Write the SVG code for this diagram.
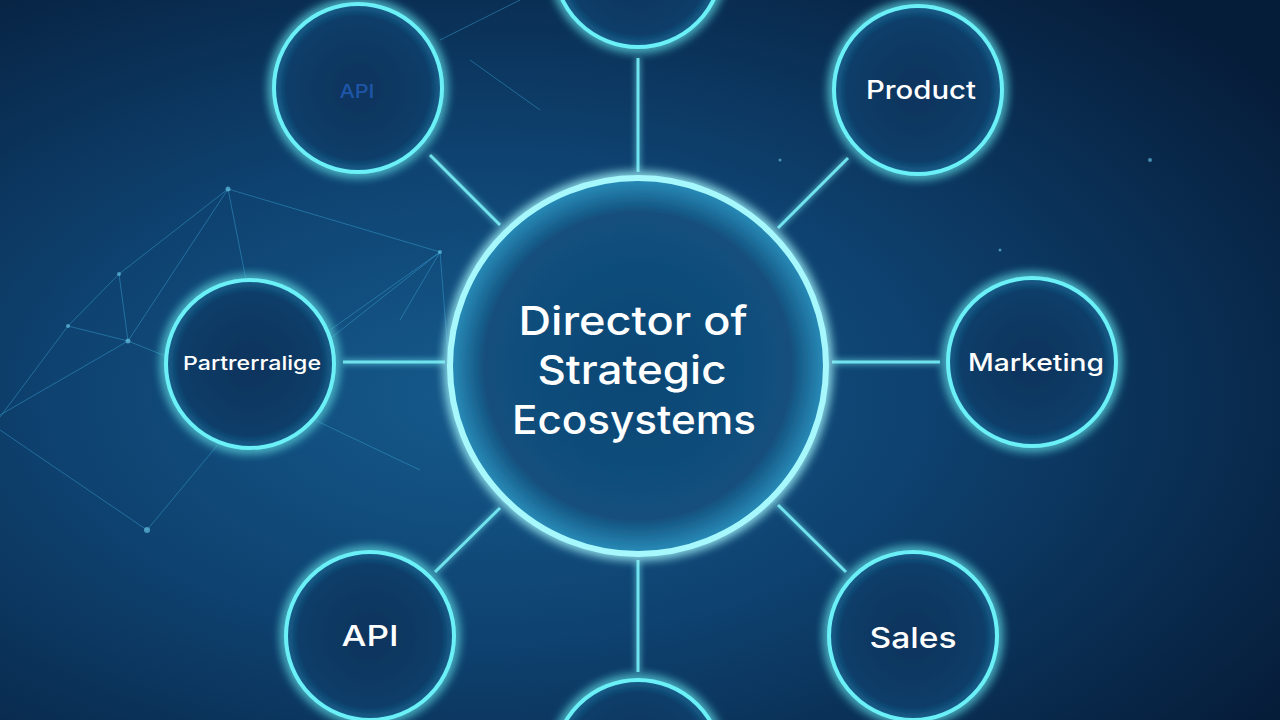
<svg xmlns="http://www.w3.org/2000/svg" width="1280" height="720" viewBox="0 0 1280 720">
<defs>
<radialGradient id="bg" cx="0.38" cy="0.55" r="0.75">
<stop offset="0" stop-color="#155a8c"/>
<stop offset="0.45" stop-color="#0e4270"/>
<stop offset="1" stop-color="#061d3a"/>
</radialGradient>
<radialGradient id="hub" cx="0.5" cy="0.5" r="0.5">
<stop offset="0" stop-color="#0f4674"/>
<stop offset="0.82" stop-color="#12507e"/>
<stop offset="1" stop-color="#2a8fbb"/>
</radialGradient>
<radialGradient id="sat" cx="0.5" cy="0.5" r="0.5">
<stop offset="0" stop-color="#0b335c"/>
<stop offset="0.85" stop-color="#0d3d68"/>
<stop offset="1" stop-color="#17648f"/>
</radialGradient>
<filter id="glow" x="-30%" y="-30%" width="160%" height="160%">
<feGaussianBlur in="SourceGraphic" stdDeviation="6" result="b"/>
<feMerge><feMergeNode in="b"/><feMergeNode in="b"/><feMergeNode in="SourceGraphic"/></feMerge>
</filter>
<filter id="glowS" filterUnits="userSpaceOnUse" x="0" y="0" width="1280" height="720">
<feGaussianBlur in="SourceGraphic" stdDeviation="3" result="b"/>
<feMerge><feMergeNode in="b"/><feMergeNode in="SourceGraphic"/></feMerge>
</filter>
<style>
.ring{fill:url(#sat);stroke:#6af0f6;stroke-width:4;filter:url(#glow)}
.hubring{fill:url(#hub);stroke:#a6f8fc;stroke-width:6;filter:url(#glow)}
.conn line{stroke:#6fe3ee;stroke-width:3}
.net line{stroke:#3aa6d8;stroke-width:1;opacity:0.45}
.net circle{fill:#6fd0f0;opacity:0.6}
.lbl{font-family:Inter,"Noto Sans","Liberation Sans",sans-serif;fill:#ffffff;text-anchor:middle;font-weight:500}
</style>
</defs>
<rect width="1280" height="720" fill="url(#bg)"/>
<g id="network" class="net">
<line x1="228" y1="189" x2="119" y2="274"/>
<line x1="119" y1="274" x2="68" y2="326"/>
<line x1="68" y1="326" x2="0" y2="417"/>
<line x1="228" y1="189" x2="440" y2="252"/>
<line x1="228" y1="189" x2="128" y2="341"/>
<line x1="228" y1="189" x2="250" y2="300"/>
<line x1="119" y1="274" x2="128" y2="341"/>
<line x1="68" y1="326" x2="128" y2="341"/>
<line x1="128" y1="341" x2="260" y2="394"/>
<line x1="128" y1="341" x2="0" y2="415"/>
<line x1="260" y1="394" x2="440" y2="252"/>
<line x1="260" y1="394" x2="147" y2="530"/>
<line x1="260" y1="394" x2="420" y2="470"/>
<line x1="0" y1="430" x2="147" y2="530"/>
<line x1="440" y1="252" x2="400" y2="320"/>
<line x1="440" y1="252" x2="450" y2="380"/>
<line x1="440" y1="252" x2="330" y2="330"/>
<line x1="440" y1="40" x2="520" y2="0"/>
<line x1="470" y1="60" x2="540" y2="110"/>
<circle cx="228" cy="189" r="2.5"/>
<circle cx="119" cy="274" r="2"/>
<circle cx="68" cy="326" r="2"/>
<circle cx="128" cy="341" r="2.5"/>
<circle cx="260" cy="394" r="2.5"/>
<circle cx="440" cy="252" r="2"/>
<circle cx="147" cy="530" r="3"/>
<circle cx="1150" cy="160" r="2"/>
<circle cx="1000" cy="250" r="1.5"/>
<circle cx="780" cy="160" r="1.5"/>
</g>
<g id="connectors" class="conn" filter="url(#glowS)">
<line x1="638" y1="58" x2="638" y2="172"/>
<line x1="638" y1="560" x2="638" y2="672"/>
<line x1="430" y1="155" x2="500" y2="225"/>
<line x1="848" y1="158" x2="778" y2="228"/>
<line x1="343" y1="362" x2="445" y2="362"/>
<line x1="832" y1="362" x2="940" y2="362"/>
<line x1="500" y1="508" x2="435" y2="572"/>
<line x1="778" y1="505" x2="846" y2="572"/>
</g>
<g id="node-top"><circle class="ring" cx="638" cy="-37" r="84"/></g>
<g id="node-bottom"><circle class="ring" cx="638" cy="764" r="84"/></g>
<g id="node-api-top">
<circle class="ring" cx="358" cy="88" r="84"/>
<text class="lbl" x="357" y="98" font-size="19" textLength="35" lengthAdjust="spacingAndGlyphs" style="fill:#1f55a8">API</text>
</g>
<g id="node-product">
<circle class="ring" cx="918" cy="90" r="84"/>
<text class="lbl" x="921" y="99" font-size="25" textLength="110" lengthAdjust="spacingAndGlyphs">Product</text>
</g>
<g id="node-partnerships">
<circle class="ring" cx="250" cy="364" r="84"/>
<text class="lbl" x="252" y="370" font-size="19" textLength="138" lengthAdjust="spacingAndGlyphs">Partrerralige</text>
</g>
<g id="node-marketing">
<circle class="ring" cx="1032" cy="362" r="84"/>
<text class="lbl" x="1036" y="371" font-size="24" textLength="136" lengthAdjust="spacingAndGlyphs">Marketing</text>
</g>
<g id="node-api-bottom">
<circle class="ring" cx="370" cy="636" r="84"/>
<text class="lbl" x="370" y="646" font-size="29" textLength="57" lengthAdjust="spacingAndGlyphs">API</text>
</g>
<g id="node-sales">
<circle class="ring" cx="913" cy="636" r="84"/>
<text class="lbl" x="913" y="648" font-size="29" textLength="87" lengthAdjust="spacingAndGlyphs">Sales</text>
</g>
<g id="node-center">
<circle class="hubring" cx="638" cy="366" r="188"/>
<text class="lbl" x="633" y="335" font-size="40" textLength="229" lengthAdjust="spacingAndGlyphs">Director of</text>
<text class="lbl" x="632" y="384" font-size="40" textLength="189" lengthAdjust="spacingAndGlyphs">Strategic</text>
<text class="lbl" x="634" y="434" font-size="40" textLength="244" lengthAdjust="spacingAndGlyphs">Ecosystems</text>
</g>
</svg>
